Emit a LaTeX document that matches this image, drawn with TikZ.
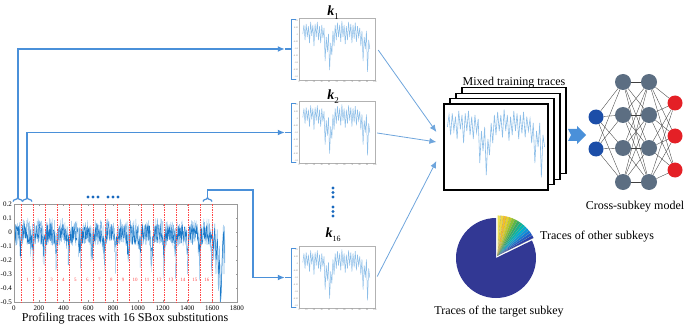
\documentclass[tikz,border=0pt]{standalone}
\usepackage{fontspec}
\setmainfont{Liberation Serif}
\usetikzlibrary{arrows.meta,decorations.pathreplacing,calc}
\definecolor{conn}{RGB}{74,144,217}
\definecolor{thinarr}{RGB}{110,165,220}
\definecolor{sigl}{RGB}{140,190,232}
\definecolor{sigd}{RGB}{25,120,200}
\definecolor{dotc}{RGB}{25,105,190}
\definecolor{nin}{RGB}{28,78,168}
\definecolor{nhid}{RGB}{92,110,130}
\definecolor{nout}{RGB}{228,32,38}
\definecolor{piemain}{RGB}{50,56,148}
\definecolor{redl}{RGB}{255,70,70}
\definecolor{w1}{RGB}{40,60,170}
\definecolor{w2}{RGB}{30,90,200}
\definecolor{w3}{RGB}{20,120,215}
\definecolor{w4}{RGB}{10,150,220}
\definecolor{w5}{RGB}{0,175,210}
\definecolor{w6}{RGB}{0,185,180}
\definecolor{w7}{RGB}{20,180,140}
\definecolor{w8}{RGB}{50,175,100}
\definecolor{w9}{RGB}{90,185,70}
\definecolor{w10}{RGB}{140,195,50}
\definecolor{w11}{RGB}{190,205,40}
\definecolor{w12}{RGB}{230,210,40}
\definecolor{w13}{RGB}{245,190,40}
\definecolor{w14}{RGB}{240,215,60}
\definecolor{w15}{RGB}{235,225,80}
\tikzset{
  conline/.style={draw=conn, line width=1.6pt},
  conarrow/.style={conline, -{Latex[length=7pt,width=6pt]}},
  thinarrow/.style={draw=thinarr, line width=0.8pt, -{Latex[length=7pt,width=6pt]}},
  sframe/.style={draw=black!30, line width=0.4pt, minimum width=76pt, minimum height=62pt, inner sep=0pt, fill=white},
  mframe/.style={draw=black, line width=1.2pt, fill=white, minimum width=104pt, minimum height=86pt, inner sep=0pt},
  klabel/.style={font=\fontsize{14}{14}\selectfont\bfseries\itshape, inner sep=0pt},
  lbl/.style={font=\fontsize{12}{14}\selectfont, inner sep=0pt},
  ticklbl/.style={font=\fontsize{7}{8}\selectfont, inner sep=0pt},
  tinylbl/.style={font=\fontsize{2.2}{2.4}\selectfont, text=black!55, inner sep=0pt},
  neuron/.style={circle, inner sep=0pt, draw=none},
  nnedge/.style={draw=black!75, line width=0.35pt},
  redline/.style={draw=redl, line width=1pt, dash pattern=on 1.5pt off 1pt},
}
\newcommand{\drawsig}[1]{\draw[#1] plot[sharp plot] coordinates {(0.03,0.25) (0.045,0.1) (0.06,0.35) (0.075,0.08) (0.09,0.3) (0.105,0.12) (0.12,0.4) (0.135,0.05) (0.15,0.28) (0.165,0.1) (0.18,0.45) (0.195,0.08) (0.21,0.3) (0.225,0.05) (0.24,0.35) (0.255,0.12) (0.27,0.4) (0.285,0.1) (0.3,0.32) (0.315,0.15) (0.33,0.7) (0.345,0.3) (0.36,0.55) (0.375,0.25) (0.39,0.85) (0.405,0.4) (0.42,0.6) (0.435,0.2) (0.45,0.45) (0.465,0.1) (0.48,0.35) (0.495,0.06) (0.51,0.3) (0.525,0.1) (0.54,0.38) (0.555,0.03) (0.57,0.3) (0.585,0.1) (0.6,0.42) (0.615,0.12) (0.63,0.35) (0.645,0.05) (0.66,0.3) (0.675,0.08) (0.69,0.4) (0.705,0.1) (0.72,0.33) (0.735,0.06) (0.75,0.38) (0.765,0.12) (0.78,0.3) (0.795,0.15) (0.81,0.45) (0.825,0.2) (0.84,0.7) (0.855,0.3) (0.87,0.5) (0.885,0.2) (0.9,0.88) (0.915,0.35) (0.93,0.5)};}
\newcommand{\smallplot}[4]{%
  \node[sframe] (#1) at (337,#2) {};
  \begin{scope}[shift={(#1.north west)}, x=74.4pt, y=-60pt]
    \begin{scope}[shift={(0.024,0.02)}]
      \drawsig{sigl, line width=0.5pt}
    \end{scope}
  \end{scope}
  \foreach \t [count=\n from 0] in {0.1,0.05,0,-0.05,-0.1,-0.15,-0.2,-0.25,-0.3}
    \node[tinylbl, anchor=east] at ($(#1.north west)+(-0.6,{3+\n*7})$) {\t};
  \foreach \t [count=\n from 0] in {0,10,...,100}
    \node[tinylbl, anchor=north] at ($(#1.south west)+({\n*7.6},0.6)$) {\t};
  \draw[conn, line width=1.2pt, line cap=round] ($(#1.north west)+(-3,2)$) -- ($(#1.north west)+(-7,2)$) -- ($(#1.south west)+(-7,-1)$) -- ($(#1.south west)+(-3,-1)$);
  \coordinate (#1in) at ($(#1.west)+(-7,0)$);
  \coordinate (#1tip) at ($(#1.west)+(-14,0)$);
  \draw[conline] (#1tip) -- (#1in);
  \node[klabel] (#1lab) at (333,#4) {#3};
}
\begin{document}
\begin{tikzpicture}[x=1pt,y=-1pt]
\useasboundingbox (0,0) rectangle (685,326);
\pgfmathsetseed{7}
% ---------------- main profiling plot ----------------
\begin{scope}[shift={(14,232)}, x=0.12389pt, y=140pt]
  \begin{scope}
    \clip (0,-0.5) rectangle (1800,0.2);
    \draw[sigl, line width=0.35pt] plot[domain=0:1605, samples=750]
      (\x, {0.1 - 0.2*rnd - 0.28*rnd*max(0,1-abs(mod(\x+92.6,96.4)-48.2)/20)});
    \draw[sigd, line width=0.3pt] plot[domain=0:1600, samples=650]
      (\x, {0.06 - 0.15*rnd - 0.15*rnd*max(0,1-abs(mod(\x+92.6,96.4)-48.2)/20)});
    \draw[sigl, line width=0.6pt] plot[sharp plot] coordinates {(1600,0.05) (1612,-0.2) (1620,0.06) (1630,-0.3) (1640,0.02) (1650,-0.42) (1658,-0.1) (1665,-0.5) (1672,-0.45) (1680,-0.2) (1690,0.05) (1695,-0.3) (1700,0.04) (1702,-0.22)};
    \draw[sigd, line width=0.5pt] plot[sharp plot] coordinates {(1600,0.02) (1610,-0.12) (1620,0.03) (1632,-0.2) (1642,-0.05) (1652,-0.3) (1660,-0.2) (1668,-0.5) (1675,-0.35) (1684,-0.1) (1692,0.0) (1697,-0.15)};
  \end{scope}
  \foreach \k in {1,...,16}
    \node[text=redl, font=\fontsize{5}{6}\selectfont, inner sep=0pt] at ({62+96.4*\k-48.2},-0.34) {\k};
  \draw[black!40, line width=0.3pt]
    \foreach \v in {0.1,0,-0.1,-0.2,-0.3,-0.4} { (0,\v) -- (12,\v) (1800,\v) -- (1788,\v) }
    \foreach \v in {200,400,...,1600} { (\v,-0.5) -- (\v,-0.485) (\v,0.2) -- (\v,0.185) };
\end{scope}
\node[draw=black!40, line width=0.4pt, minimum width=223pt, minimum height=98pt, inner sep=0pt] (mainplot) at (125.5,253) {};
\foreach \v in {0.2,0.1,0,-0.1,-0.2,-0.3,-0.4,-0.5}
  \node[ticklbl, anchor=east] at (12,{232-140*\v}) {\v};
\foreach \v in {0,200,...,1800}
  \node[ticklbl] at ({14+0.12389*\v},308) {\v};
\node[lbl] (title) at (125,318.5) {Profiling traces with 16 SBox substitutions};
% braces and dots
\draw[conn, line width=1.2pt, decorate, decoration={brace, amplitude=4pt}] (13,201.5) -- (22.5,201.5);
\draw[conn, line width=1.2pt, decorate, decoration={brace, amplitude=4pt}] (22.5,201.5) -- (32,201.5);
\draw[conn, line width=1.2pt, decorate, decoration={brace, amplitude=4pt}] (203,201.5) -- (212,201.5);
\coordinate (b1) at (17.75,197.5);
\coordinate (b2) at (27.25,197.5);
\coordinate (b3) at (207.5,197.5);
\fill[dotc] \foreach \x in {88,93,98,108,113,118} { (\x,197) circle[radius=1.7] };
\fill[dotc] \foreach \y in {188,192.5,197,207,211.5,216} { (333,\y) circle[radius=1.7] };
% ---------------- small trace plots ----------------
\smallplot{kA}{49}{k\raisebox{-0.3em}{\normalfont\fontsize{9}{9}\selectfont 1}}{13}
\smallplot{kB}{132.5}{k\raisebox{-0.3em}{\normalfont\fontsize{9}{9}\selectfont 2}}{97}
\smallplot{kC}{277.5}{k\raisebox{-0.3em}{\normalfont\fontsize{8}{8}\selectfont 16}}{235}
% connectors from profiling plot
\coordinate (turn) at (253,190);
\draw[conarrow] (b1) |- (kAtip);
\draw[conarrow] (b2) |- (kBtip);
\draw[conarrow] (b3) |- (turn) |- (kCtip);
% ---------------- mixed training traces ----------------
\foreach \i in {3,2,1}
  \node[mframe] (mix\i) at ({496+6*\i},{147-5.4*\i}) {};
\node[mframe] (mix) at (496,147) {};
\begin{scope}[shift={(mix.north west)}, x=108pt, y=-80pt]
  \begin{scope}[shift={(0.007,0.045)}]
    \drawsig{sigl, line width=0.6pt}
  \end{scope}
\end{scope}
\node[lbl, anchor=base] (mixlab) at ([yshift=1.5pt]mix3.north) {Mixed training traces};
\coordinate (m1) at ($(mix.west)+(-7,-15)$);
\coordinate (m2) at ($(mix.west)+(-7,-5)$);
\coordinate (m3) at ($(mix.west)+(-7,14)$);
\draw[thinarrow] ($(kA.east)+(3,1)$) -- (m1);
\draw[thinarrow] ($(kB.east)+(2,0.5)$) -- (m2);
\draw[thinarrow] ($(kC.east)+(2,-1)$) -- (m3);
% big arrow
\fill[conn] (568,129) -- (577,129) -- (577,126) -- (586,135) -- (577,144) -- (577,141) -- (568,141) -- (571,135) -- cycle;
% ---------------- neural network ----------------
\foreach \y [count=\n] in {117,149}
  \node[neuron, fill=nin, minimum size=15pt] (i\n) at (596,\y) {};
\foreach \y [count=\n] in {82,115,148,182}
  {\node[neuron, fill=nhid, minimum size=16pt] (a\n) at (623,\y) {};
   \node[neuron, fill=nhid, minimum size=16pt] (h\n) at (649,\y) {};}
\foreach \y [count=\n] in {103,136,170}
  \node[neuron, fill=nout, minimum size=15pt] (o\n) at (675,\y) {};
\foreach \i in {1,2}
  \foreach \j in {1,...,4}
    \draw[nnedge] (i\i) -- (a\j);
\foreach \i in {1,...,4}
  \foreach \j in {1,...,4}
    \draw[nnedge] (a\i) -- (h\j);
\foreach \i in {1,...,4}
  \foreach \j in {1,2,3}
    \draw[nnedge] (h\i) -- (o\j);
\node[lbl] (nnlab) at (635,207) {Cross-subkey model};
% ---------------- pie chart ----------------
\begin{scope}[shift={(496,258)}, y=1pt]
  \fill[piemain] (0,0) -- (90:40) arc[start angle=90, end angle=386, radius=40] -- cycle;
  \begin{scope}[shift={(58:3)}]
    \foreach \i in {1,...,15}
      {\pgfmathsetmacro{\aa}{26+(\i-1)*64/15}
       \pgfmathsetmacro{\bb}{26+\i*64/15}
       \fill[w\i] (0,0) -- (\aa:40) arc[start angle=\aa, end angle=\bb, radius=40] -- cycle;
       \draw[black!45, line width=0.15pt] (0,0) -- (\aa:40);}
  \end{scope}
\end{scope}
\node[lbl, anchor=west] (otherlab) at (540,237) {Traces of other subkeys};
\node[lbl] (targetlab) at (499,312) {Traces of the target subkey};
% red separators of the profiling plot, drawn last
\draw[redline] \foreach \k in {0,...,16} { ({14+0.12389*(62+96.4*\k)},204) -- ({14+0.12389*(62+96.4*\k)},302) };
\end{tikzpicture}
\end{document}
